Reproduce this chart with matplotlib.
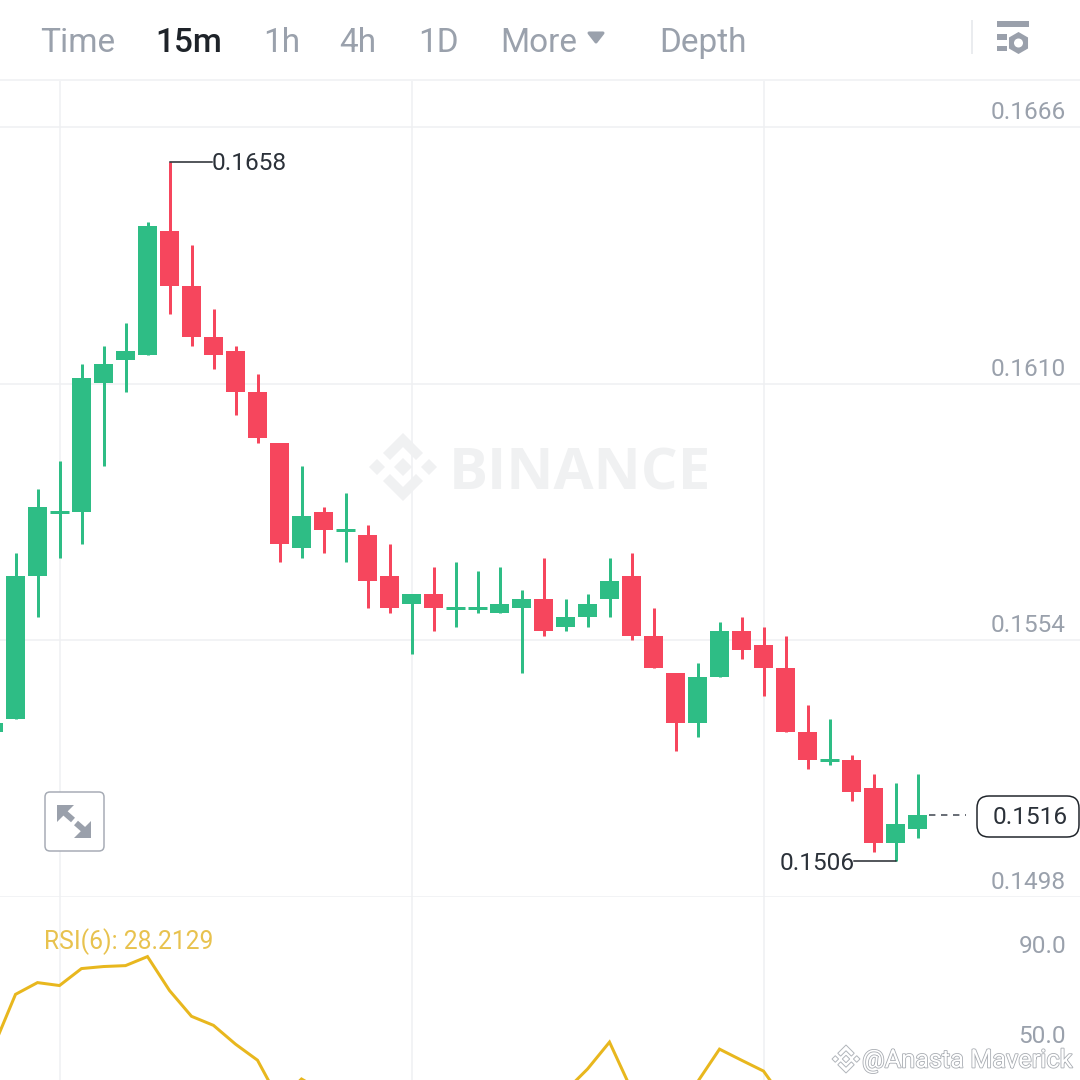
import matplotlib
matplotlib.use('Agg')
import matplotlib.pyplot as plt
import matplotlib.patheffects as pe
from matplotlib.patches import FancyBboxPatch, Polygon, Circle, RegularPolygon

plt.rcParams['font.family'] = ['Roboto', 'DejaVu Sans']

# Candles, left to right, one every 15 minutes
opens = [0.1534, 0.1537, 0.1568, 0.1582, 0.1582, 0.1610, 0.1615, 0.1616, 0.1643, 0.1631,
         0.1620, 0.1617, 0.1608, 0.1597, 0.1574, 0.1582, 0.1578, 0.1577, 0.1568, 0.1562,
         0.1564, 0.1561, 0.1561, 0.1560, 0.1561, 0.1563, 0.1557, 0.1559, 0.1563, 0.1568,
         0.1555, 0.1547, 0.1536, 0.1546, 0.1556, 0.1553, 0.1548, 0.1534, 0.1528, 0.1528,
         0.1522, 0.1510, 0.1513]
highs = [0.1536, 0.1573, 0.1587, 0.1593, 0.1614, 0.1618, 0.1623, 0.1645, 0.1658, 0.1640,
         0.1626, 0.1618, 0.1612, 0.1597, 0.1592, 0.1583, 0.1586, 0.1579, 0.1575, 0.1564,
         0.1570, 0.1571, 0.1569, 0.1570, 0.1565, 0.1572, 0.1563, 0.1564, 0.1572, 0.1573,
         0.1561, 0.1547, 0.1549, 0.1558, 0.1559, 0.1557, 0.1555, 0.1540, 0.1537, 0.1529,
         0.1525, 0.1523, 0.1525]
lows = [0.1534, 0.1537, 0.1559, 0.1572, 0.1575, 0.1592, 0.1608, 0.1616, 0.1625, 0.1618,
        0.1613, 0.1603, 0.1597, 0.1571, 0.1572, 0.1573, 0.1571, 0.1561, 0.1560, 0.1551,
        0.1556, 0.1557, 0.1560, 0.1560, 0.1547, 0.1555, 0.1556, 0.1557, 0.1559, 0.1554,
        0.1548, 0.1530, 0.1533, 0.1546, 0.1550, 0.1542, 0.1534, 0.1526, 0.1527, 0.1519,
        0.1508, 0.1506, 0.1511]
closes = [0.1536, 0.1568, 0.1583, 0.1582, 0.1611, 0.1614, 0.1617, 0.1644, 0.1631, 0.1620,
          0.1616, 0.1608, 0.1598, 0.1575, 0.1581, 0.1578, 0.1578, 0.1567, 0.1561, 0.1564,
          0.1561, 0.1561, 0.1561, 0.1562, 0.1563, 0.1556, 0.1559, 0.1562, 0.1567, 0.1555,
          0.1548, 0.1536, 0.1546, 0.1556, 0.1552, 0.1548, 0.1534, 0.1528, 0.1528, 0.1521,
          0.1510, 0.1514, 0.1516]

rsi = [51.8, 75.1, 80.3, 79.0, 86.5, 87.4, 87.8, 91.8, 76.8, 65.4, 61.4, 53.1, 46.0, 28.0,
       37.7, 32.0, 30.0, 26.0, 24.0, 25.0, 24.0, 26.0, 26.0, 28.0, 25.0, 27.0, 32.4, 42.1,
       54.0, 32.9, 28.0, 26.0, 36.4, 50.9, 46.0, 41.2, 27.6, 22.0, 22.0, 20.0, 16.0, 24.0,
       28.2129]

# the axis shows these rounded to four places
price_ticks = [0.16656, 0.16097, 0.15541, 0.14982]
rsi_ticks = [90.0, 50.0]
grid_candles = [3, 19, 35]
nav_labels = ['Time', '15m', '1h', '4h', '1D', 'More', 'Depth']
nav_x = [40, 155.5, 263, 339, 418, 500, 659]

GREEN = '#2ebd85'
RED = '#f6465d'
GRID = '#eff0f2'
GRAY = '#9aa1ac'
DARK = '#1e2329'
INK = '#2b3139'
PX = 0.72  # one pixel in points at dpi 100
W = 1080.0
LABEL_SIZE = 17.6

# one candle every 22 px, the first centred at x = -6.5
xlim = (6.5 / 22, (W + 6.5) / 22)

fig = plt.figure(figsize=(10.8, 10.8), dpi=100, facecolor='white')


def px_axes(top, bottom):
    return fig.add_axes([0, 1 - bottom / W, 1, (bottom - top) / W])


def setup_axes(ax, ylim):
    ax.set_xlim(*xlim)
    ax.set_ylim(*ylim)
    ax.set_xticks(grid_candles)
    ax.tick_params(length=0, labelbottom=False, labelleft=False)
    ax.grid(True, axis='x', color=GRID, lw=1.5 * PX, zorder=0)
    ax.set_axisbelow(True)
    for s in ax.spines.values():
        s.set_visible(False)


# main price pane, 1 px is 1/45987 of price
main = px_axes(80, 897)
px_price = 1 / 45987
setup_axes(main, (price_ticks[-1], price_ticks[0] + 47 * px_price))
main.set_yticks(price_ticks)
main.grid(True, axis='y', color=GRID, lw=1.5 * PX, zorder=0)

for i in range(len(opens)):
    col = GREEN if closes[i] >= opens[i] else RED
    main.vlines(i, lows[i], highs[i], color=col, lw=3 * PX, zorder=3)
    if opens[i] == closes[i]:
        main.hlines(opens[i], i - 0.43, i + 0.43, color=col, lw=3 * PX, zorder=3)
    else:
        main.bar(i, closes[i] - opens[i], bottom=opens[i], width=0.86, color=col, zorder=3)

for p in price_ticks:
    main.annotate(f'{p:.4f}', xy=(1, p), xycoords=('axes fraction', 'data'),
                  xytext=(-14 * PX, 8 * PX), textcoords='offset points', ha='right',
                  va='baseline', color=GRAY, fontsize=LABEL_SIZE)

# high / low callouts
i_high = highs.index(max(highs))
main.plot([i_high, i_high + 42 / 22], [highs[i_high]] * 2, color=DARK, lw=1.5 * PX, zorder=4)
main.annotate(f'{highs[i_high]:.4f}', xy=(i_high + 42 / 22, highs[i_high]), xytext=(0, -8 * PX),
              textcoords='offset points', color=INK, fontsize=LABEL_SIZE, va='baseline',
              ha='left', zorder=5)
i_low = lows.index(min(lows))
main.plot([i_low, i_low - 41 / 22], [lows[i_low]] * 2, color=DARK, lw=1.5 * PX, zorder=4)
main.annotate(f'{lows[i_low]:.4f}', xy=(i_low - 41 / 22, lows[i_low]), xytext=(0, -9 * PX),
              textcoords='offset points', color=INK, fontsize=LABEL_SIZE, va='baseline',
              ha='right', zorder=5)

# last price
i_last = len(closes) - 1
main.plot([i_last + 0.5, i_last + 2.2], [closes[-1]] * 2, color='#474d57', lw=1.6 * PX,
          ls=(0, (4, 3.5)), zorder=4)
main.annotate(f'{closes[-1]:.4f}', xy=(i_last + 5.1, closes[-1]), xytext=(0, -9 * PX),
              textcoords='offset points', color=INK, fontsize=LABEL_SIZE, ha='center',
              va='baseline', zorder=6)

# RSI pane: 40 RSI points are 91 px, 90 sits at y = 961
sub = px_axes(897, 1080)
setup_axes(sub, (50 - 29 / 2.275, 90 + 64 / 2.275))
sub.plot(range(len(rsi)), rsi, color='#e8b71e', lw=3 * PX, zorder=3, solid_joinstyle='miter')
for v in rsi_ticks:
    sub.annotate(f'{v:.1f}', xy=(1, v), xycoords=('axes fraction', 'data'),
                 xytext=(-14 * PX, 8 * PX), textcoords='offset points', ha='right',
                 va='baseline', color=GRAY, fontsize=LABEL_SIZE)

# everything that is app chrome goes on an overlay in pixel coordinates
ui = fig.add_axes([0, 0, 1, 1], zorder=10)
ui.set_xlim(0, W)
ui.set_ylim(W, 0)
ui.axis('off')


def binance_logo(cx, cy, r, **kw):
    s = r / 34.0
    shapes = [
        [(0, -9), (9, 0), (0, 9), (-9, 0)],
        [(-26, -8), (-18, 0), (-26, 8), (-34, 0)],
        [(26, -8), (34, 0), (26, 8), (18, 0)],
        [(0, -34), (20, -14), (13, -7), (0, -20), (-13, -7), (-20, -14)],
        [(0, 34), (20, 14), (13, 7), (0, 20), (-13, 7), (-20, 14)],
    ]
    for shape in shapes:
        ui.add_patch(Polygon([(cx + a * s, cy + b * s) for a, b in shape], closed=True, **kw))


# header
for label, x in zip(nav_labels, nav_x):
    on = label == '15m'
    ui.text(x, 39.5, label, color=DARK if on else GRAY, fontsize=24, ha='left',
            va='center_baseline', fontweight='medium' if on else 'normal')
ui.add_patch(Polygon([(589, 33), (603, 33), (596, 42)], closed=True, fc=GRAY, ec=GRAY, lw=2.2,
                     joinstyle='round'))
ui.plot([0, W], [80, 80], color='#f2f3f5', lw=2 * PX)
ui.plot([972, 972], [21, 53], color='#eaecef', lw=2 * PX)

# settings icon
ui.fill([997, 1029, 1029, 997], [21, 21, 27, 27], color='#9aa0ab', lw=0)
ui.fill([997, 1007, 1007, 997], [34, 34, 40, 40], color='#9aa0ab', lw=0)
ui.fill([997, 1007, 1007, 997], [46, 46, 51, 51], color='#9aa0ab', lw=0)
ui.add_patch(RegularPolygon((1018.5, 43), 6, radius=11, fc='#9aa0ab', ec='none'))
ui.add_patch(Circle((1018.5, 43), 4.5, fc='white', ec='none'))

# watermark
binance_logo(403, 467, 34, fc='#f0f1f2', ec='none', zorder=0)
ui.text(449, 467, 'BINANCE', color='#f0f1f2', fontsize=41.8, fontweight='bold', ha='left',
        va='center_baseline', zorder=0, family=['Open Sans', 'DejaVu Sans'])

# expand button
ui.add_patch(FancyBboxPatch((49, 796), 51, 51, boxstyle='round,pad=4,rounding_size=5', fc='white',
                            ec='#a6abb5', lw=1.5 * PX))
ui.fill([57, 74, 57], [805, 805, 822], color='#9aa0ab', lw=0)
ui.fill([91, 74, 91], [838, 838, 821], color='#9aa0ab', lw=0)
ui.plot([65, 73], [813, 820], color='#9aa0ab', lw=6 * PX, solid_capstyle='butt')
ui.plot([76, 84], [823, 830], color='#9aa0ab', lw=6 * PX, solid_capstyle='butt')

# last price box
ui.add_patch(FancyBboxPatch((987, 806), 82, 21, boxstyle='round,pad=10,rounding_size=12',
                            fc='none', ec=DARK, lw=1.5 * PX, zorder=1))

ui.text(44, 939, 'RSI(6): 28.2129', color='#e8c24e', fontsize=17.7, ha='left',
        va='center_baseline')

# user tag
binance_logo(846, 1059, 14, fc='white', ec='#b0b4ba', lw=0.7)
ui.text(862, 1058, '@Anasta Maverick', color='white', fontsize=18.2, ha='left',
        va='center_baseline', path_effects=[pe.withStroke(linewidth=1.2, foreground='#a8acb2')])

fig.savefig('out.png', dpi=100, facecolor='white')
